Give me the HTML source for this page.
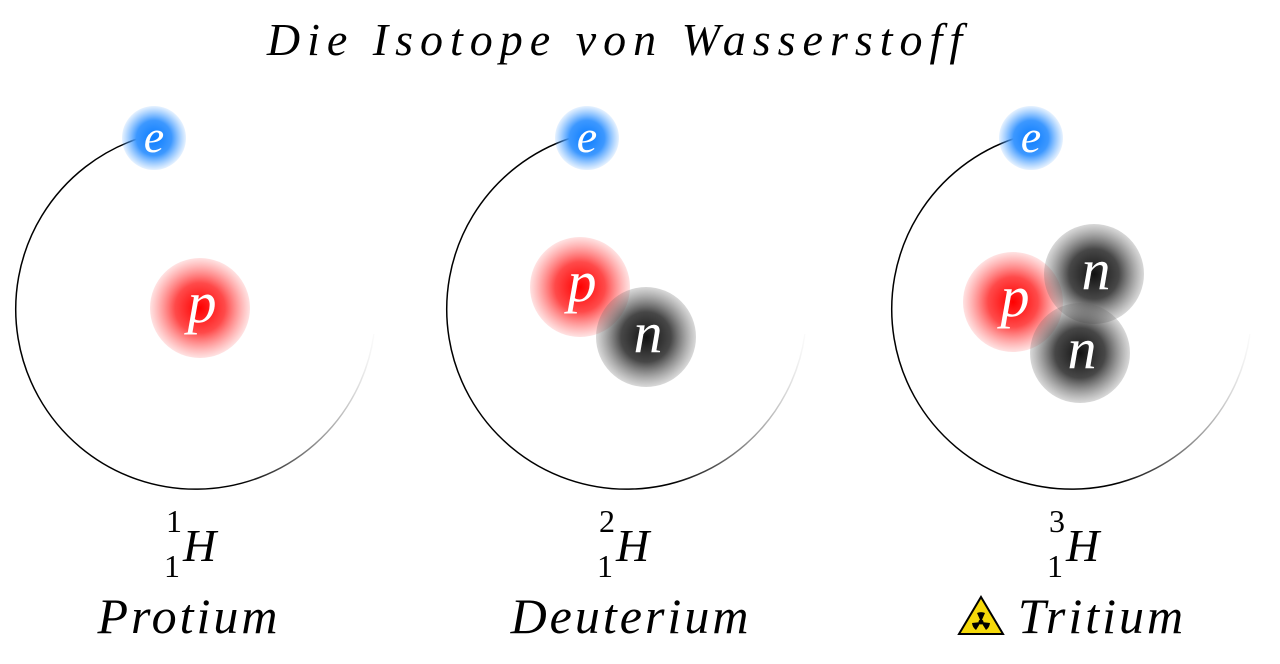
<!DOCTYPE html>
<html><head><meta charset="utf-8"><style>
body{margin:0;background:#fff;width:1280px;height:659px;overflow:hidden}
svg text{font-family:"Liberation Serif","DejaVu Serif",serif;font-style:italic;}
</style></head><body>
<svg width="1280" height="659" viewBox="0 0 1280 659">
<defs>
<radialGradient id="gb"><stop offset="0" stop-color="#0a7cff"/><stop offset="0.55" stop-color="#3d98ff"/><stop offset="1" stop-color="#5aa8ff" stop-opacity="0.15"/></radialGradient>
<radialGradient id="gr"><stop offset="0" stop-color="#ff0000"/><stop offset="0.5" stop-color="#ff4a4a"/><stop offset="1" stop-color="#ff7070" stop-opacity="0.2"/></radialGradient>
<radialGradient id="gk"><stop offset="0" stop-color="#111"/><stop offset="0.5" stop-color="#333" stop-opacity="0.9"/><stop offset="1" stop-color="#666" stop-opacity="0.25"/></radialGradient>
<linearGradient id="f1" gradientUnits="userSpaceOnUse" x1="240" y1="0" x2="376" y2="0"><stop offset="0" stop-color="#000"/><stop offset="1" stop-color="#000" stop-opacity="0"/></linearGradient>
<linearGradient id="f2" gradientUnits="userSpaceOnUse" x1="671" y1="0" x2="807" y2="0"><stop offset="0" stop-color="#000"/><stop offset="1" stop-color="#000" stop-opacity="0"/></linearGradient>
<linearGradient id="f3" gradientUnits="userSpaceOnUse" x1="1116" y1="0" x2="1252" y2="0"><stop offset="0" stop-color="#000"/><stop offset="1" stop-color="#000" stop-opacity="0"/></linearGradient>
</defs>
<text x="618" y="55" font-size="46" text-anchor="middle" letter-spacing="7">Die Isotope von Wasserstoff</text>

<path d="M140 138 A180 180 0 1 0 374 334" fill="none" stroke="url(#f1)" stroke-width="1.5"/>
<circle cx="154" cy="138" r="32" fill="url(#gb)"/>
<text x="154" y="152" font-size="46" fill="#fff" text-anchor="middle">e</text>
<circle cx="200" cy="308" r="50" fill="url(#gr)"/>
<text x="202" y="322" font-size="58" fill="#fff" text-anchor="middle">p</text>

<path d="M571 138 A180 180 0 1 0 805 334" fill="none" stroke="url(#f2)" stroke-width="1.5"/>
<circle cx="587" cy="138" r="32" fill="url(#gb)"/>
<text x="587" y="152" font-size="46" fill="#fff" text-anchor="middle">e</text>
<circle cx="580" cy="287" r="50" fill="url(#gr)"/>
<circle cx="646" cy="337" r="50" fill="url(#gk)"/>
<text x="582" y="301" font-size="58" fill="#fff" text-anchor="middle">p</text>
<text x="648" y="352" font-size="58" fill="#fff" text-anchor="middle">n</text>

<path d="M1016 138 A180 180 0 1 0 1250 334" fill="none" stroke="url(#f3)" stroke-width="1.5"/>
<circle cx="1031" cy="138" r="32" fill="url(#gb)"/>
<text x="1031" y="152" font-size="46" fill="#fff" text-anchor="middle">e</text>
<circle cx="1013" cy="302" r="50" fill="url(#gr)"/>
<circle cx="1094" cy="274" r="50" fill="url(#gk)"/>
<circle cx="1080" cy="353" r="50" fill="url(#gk)"/>
<text x="1015" y="316" font-size="58" fill="#fff" text-anchor="middle">p</text>
<text x="1096" y="289" font-size="58" fill="#fff" text-anchor="middle">n</text>
<text x="1082" y="368" font-size="58" fill="#fff" text-anchor="middle">n</text>

<g font-size="32">
<text x="166" y="532" style="font-style:normal">1</text><text x="164" y="577" style="font-style:normal">1</text>
<text x="599" y="532" style="font-style:normal">2</text><text x="597" y="577" style="font-style:normal">1</text>
<text x="1049" y="532" style="font-style:normal">3</text><text x="1047" y="577" style="font-style:normal">1</text>
</g>
<text x="183" y="561" font-size="46">H</text>
<text x="616" y="561" font-size="46">H</text>
<text x="1066" y="561" font-size="46">H</text>

<text x="189" y="633" font-size="50" text-anchor="middle" letter-spacing="3">Protium</text>
<text x="631" y="633" font-size="50" text-anchor="middle" letter-spacing="3">Deuterium</text>
<text x="1102" y="633" font-size="50" text-anchor="middle" letter-spacing="3">Tritium</text>
<g transform="translate(981,617)">
<polygon points="0,-20 22,17 -22,17" fill="#f5d90a" stroke="#000" stroke-width="2"/>
<circle cx="0" cy="5" r="2.5" fill="#000"/>
<path d="M0 5 L-4 -4 A10 10 0 0 1 4 -4 Z M0 5 L9 6 A10 10 0 0 1 5 13 Z M0 5 L-5 13 A10 10 0 0 1 -9 6 Z" fill="#000"/>
</g>
</svg>
</body></html>
